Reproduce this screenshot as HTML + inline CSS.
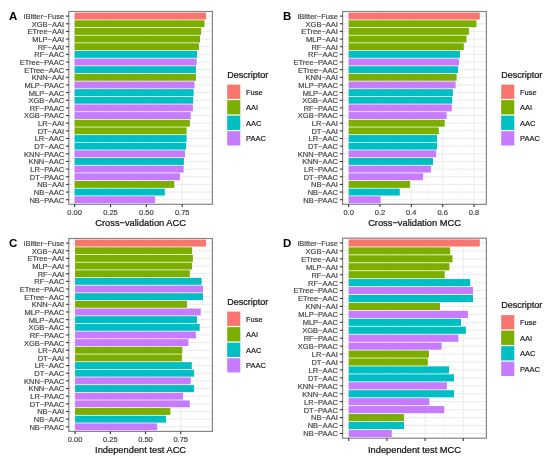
<!DOCTYPE html>
<html><head><meta charset="utf-8"><style>
html,body{margin:0;padding:0;background:#fff;}
body{width:550px;height:463px;overflow:hidden;}
svg{display:block;filter:blur(0.3px);}
text{font-family:"Liberation Sans",sans-serif;}
.ax{font-size:7.5px;fill:#444444;stroke:#444444;stroke-width:0.18px;}
.ti{font-size:9.3px;fill:#111;stroke:#111;stroke-width:0.22px;}
.lg{font-size:7.5px;fill:#111;stroke:#111;stroke-width:0.15px;}
.lt{font-size:9px;fill:#111;stroke:#111;stroke-width:0.22px;}
.pl{font-size:11.5px;font-weight:bold;fill:#000;}
</style></head><body>
<svg width="550" height="463" viewBox="0 0 550 463">
<rect x="0" y="0" width="550" height="463" fill="#FFFFFF"/>
<line x1="92.58" y1="11.5" x2="92.58" y2="204.3" stroke="#F2F2F2" stroke-width="0.6"/>
<line x1="128.43" y1="11.5" x2="128.43" y2="204.3" stroke="#F2F2F2" stroke-width="0.6"/>
<line x1="164.28" y1="11.5" x2="164.28" y2="204.3" stroke="#F2F2F2" stroke-width="0.6"/>
<line x1="200.12" y1="11.5" x2="200.12" y2="204.3" stroke="#F2F2F2" stroke-width="0.6"/>
<line x1="74.65" y1="11.5" x2="74.65" y2="204.3" stroke="#EBEBEB" stroke-width="1.0"/>
<line x1="110.50" y1="11.5" x2="110.50" y2="204.3" stroke="#EBEBEB" stroke-width="1.0"/>
<line x1="146.35" y1="11.5" x2="146.35" y2="204.3" stroke="#EBEBEB" stroke-width="1.0"/>
<line x1="182.20" y1="11.5" x2="182.20" y2="204.3" stroke="#EBEBEB" stroke-width="1.0"/>
<line x1="68.8" y1="16.09" x2="212.4" y2="16.09" stroke="#EBEBEB" stroke-width="1.0"/>
<line x1="68.8" y1="23.74" x2="212.4" y2="23.74" stroke="#EBEBEB" stroke-width="1.0"/>
<line x1="68.8" y1="31.39" x2="212.4" y2="31.39" stroke="#EBEBEB" stroke-width="1.0"/>
<line x1="68.8" y1="39.04" x2="212.4" y2="39.04" stroke="#EBEBEB" stroke-width="1.0"/>
<line x1="68.8" y1="46.69" x2="212.4" y2="46.69" stroke="#EBEBEB" stroke-width="1.0"/>
<line x1="68.8" y1="54.34" x2="212.4" y2="54.34" stroke="#EBEBEB" stroke-width="1.0"/>
<line x1="68.8" y1="62.00" x2="212.4" y2="62.00" stroke="#EBEBEB" stroke-width="1.0"/>
<line x1="68.8" y1="69.65" x2="212.4" y2="69.65" stroke="#EBEBEB" stroke-width="1.0"/>
<line x1="68.8" y1="77.30" x2="212.4" y2="77.30" stroke="#EBEBEB" stroke-width="1.0"/>
<line x1="68.8" y1="84.95" x2="212.4" y2="84.95" stroke="#EBEBEB" stroke-width="1.0"/>
<line x1="68.8" y1="92.60" x2="212.4" y2="92.60" stroke="#EBEBEB" stroke-width="1.0"/>
<line x1="68.8" y1="100.25" x2="212.4" y2="100.25" stroke="#EBEBEB" stroke-width="1.0"/>
<line x1="68.8" y1="107.90" x2="212.4" y2="107.90" stroke="#EBEBEB" stroke-width="1.0"/>
<line x1="68.8" y1="115.55" x2="212.4" y2="115.55" stroke="#EBEBEB" stroke-width="1.0"/>
<line x1="68.8" y1="123.20" x2="212.4" y2="123.20" stroke="#EBEBEB" stroke-width="1.0"/>
<line x1="68.8" y1="130.85" x2="212.4" y2="130.85" stroke="#EBEBEB" stroke-width="1.0"/>
<line x1="68.8" y1="138.50" x2="212.4" y2="138.50" stroke="#EBEBEB" stroke-width="1.0"/>
<line x1="68.8" y1="146.15" x2="212.4" y2="146.15" stroke="#EBEBEB" stroke-width="1.0"/>
<line x1="68.8" y1="153.80" x2="212.4" y2="153.80" stroke="#EBEBEB" stroke-width="1.0"/>
<line x1="68.8" y1="161.46" x2="212.4" y2="161.46" stroke="#EBEBEB" stroke-width="1.0"/>
<line x1="68.8" y1="169.11" x2="212.4" y2="169.11" stroke="#EBEBEB" stroke-width="1.0"/>
<line x1="68.8" y1="176.76" x2="212.4" y2="176.76" stroke="#EBEBEB" stroke-width="1.0"/>
<line x1="68.8" y1="184.41" x2="212.4" y2="184.41" stroke="#EBEBEB" stroke-width="1.0"/>
<line x1="68.8" y1="192.06" x2="212.4" y2="192.06" stroke="#EBEBEB" stroke-width="1.0"/>
<line x1="68.8" y1="199.71" x2="212.4" y2="199.71" stroke="#EBEBEB" stroke-width="1.0"/>
<rect x="74.65" y="12.65" width="131.45" height="6.89" fill="#F8766D"/>
<rect x="74.65" y="20.30" width="129.85" height="6.89" fill="#7CAE00"/>
<rect x="74.65" y="27.95" width="126.45" height="6.89" fill="#7CAE00"/>
<rect x="74.65" y="35.60" width="125.35" height="6.89" fill="#7CAE00"/>
<rect x="74.65" y="43.25" width="124.25" height="6.89" fill="#7CAE00"/>
<rect x="74.65" y="50.90" width="122.35" height="6.89" fill="#00BFC4"/>
<rect x="74.65" y="58.55" width="121.95" height="6.89" fill="#C77CFF"/>
<rect x="74.65" y="66.20" width="121.25" height="6.89" fill="#00BFC4"/>
<rect x="74.65" y="73.85" width="121.25" height="6.89" fill="#7CAE00"/>
<rect x="74.65" y="81.50" width="119.85" height="6.89" fill="#C77CFF"/>
<rect x="74.65" y="89.16" width="118.95" height="6.89" fill="#00BFC4"/>
<rect x="74.65" y="96.81" width="118.55" height="6.89" fill="#00BFC4"/>
<rect x="74.65" y="104.46" width="118.25" height="6.89" fill="#C77CFF"/>
<rect x="74.65" y="112.11" width="116.05" height="6.89" fill="#C77CFF"/>
<rect x="74.65" y="119.76" width="115.25" height="6.89" fill="#7CAE00"/>
<rect x="74.65" y="127.41" width="111.95" height="6.89" fill="#7CAE00"/>
<rect x="74.65" y="135.06" width="111.95" height="6.89" fill="#00BFC4"/>
<rect x="74.65" y="142.71" width="111.45" height="6.89" fill="#00BFC4"/>
<rect x="74.65" y="150.36" width="110.35" height="6.89" fill="#C77CFF"/>
<rect x="74.65" y="158.01" width="109.25" height="6.89" fill="#00BFC4"/>
<rect x="74.65" y="165.66" width="108.95" height="6.89" fill="#C77CFF"/>
<rect x="74.65" y="173.31" width="105.35" height="6.89" fill="#C77CFF"/>
<rect x="74.65" y="180.97" width="99.65" height="6.89" fill="#7CAE00"/>
<rect x="74.65" y="188.62" width="90.15" height="6.89" fill="#00BFC4"/>
<rect x="74.65" y="196.27" width="80.45" height="6.89" fill="#C77CFF"/>
<rect x="68.8" y="11.5" width="143.60" height="192.80" fill="none" stroke="#858585" stroke-width="1.2"/>
<line x1="66.05" y1="16.09" x2="68.8" y2="16.09" stroke="#333333" stroke-width="1.1"/>
<text x="64.10" y="18.99" text-anchor="end" class="ax">iBitter−Fuse</text>
<line x1="66.05" y1="23.74" x2="68.8" y2="23.74" stroke="#333333" stroke-width="1.1"/>
<text x="64.10" y="26.64" text-anchor="end" class="ax">XGB−AAI</text>
<line x1="66.05" y1="31.39" x2="68.8" y2="31.39" stroke="#333333" stroke-width="1.1"/>
<text x="64.10" y="34.29" text-anchor="end" class="ax">ETree−AAI</text>
<line x1="66.05" y1="39.04" x2="68.8" y2="39.04" stroke="#333333" stroke-width="1.1"/>
<text x="64.10" y="41.94" text-anchor="end" class="ax">MLP−AAI</text>
<line x1="66.05" y1="46.69" x2="68.8" y2="46.69" stroke="#333333" stroke-width="1.1"/>
<text x="64.10" y="49.59" text-anchor="end" class="ax">RF−AAI</text>
<line x1="66.05" y1="54.34" x2="68.8" y2="54.34" stroke="#333333" stroke-width="1.1"/>
<text x="64.10" y="57.24" text-anchor="end" class="ax">RF−AAC</text>
<line x1="66.05" y1="62.00" x2="68.8" y2="62.00" stroke="#333333" stroke-width="1.1"/>
<text x="64.10" y="64.90" text-anchor="end" class="ax">ETree−PAAC</text>
<line x1="66.05" y1="69.65" x2="68.8" y2="69.65" stroke="#333333" stroke-width="1.1"/>
<text x="64.10" y="72.55" text-anchor="end" class="ax">ETree−AAC</text>
<line x1="66.05" y1="77.30" x2="68.8" y2="77.30" stroke="#333333" stroke-width="1.1"/>
<text x="64.10" y="80.20" text-anchor="end" class="ax">KNN−AAI</text>
<line x1="66.05" y1="84.95" x2="68.8" y2="84.95" stroke="#333333" stroke-width="1.1"/>
<text x="64.10" y="87.85" text-anchor="end" class="ax">MLP−PAAC</text>
<line x1="66.05" y1="92.60" x2="68.8" y2="92.60" stroke="#333333" stroke-width="1.1"/>
<text x="64.10" y="95.50" text-anchor="end" class="ax">MLP−AAC</text>
<line x1="66.05" y1="100.25" x2="68.8" y2="100.25" stroke="#333333" stroke-width="1.1"/>
<text x="64.10" y="103.15" text-anchor="end" class="ax">XGB−AAC</text>
<line x1="66.05" y1="107.90" x2="68.8" y2="107.90" stroke="#333333" stroke-width="1.1"/>
<text x="64.10" y="110.80" text-anchor="end" class="ax">RF−PAAC</text>
<line x1="66.05" y1="115.55" x2="68.8" y2="115.55" stroke="#333333" stroke-width="1.1"/>
<text x="64.10" y="118.45" text-anchor="end" class="ax">XGB−PAAC</text>
<line x1="66.05" y1="123.20" x2="68.8" y2="123.20" stroke="#333333" stroke-width="1.1"/>
<text x="64.10" y="126.10" text-anchor="end" class="ax">LR−AAI</text>
<line x1="66.05" y1="130.85" x2="68.8" y2="130.85" stroke="#333333" stroke-width="1.1"/>
<text x="64.10" y="133.75" text-anchor="end" class="ax">DT−AAI</text>
<line x1="66.05" y1="138.50" x2="68.8" y2="138.50" stroke="#333333" stroke-width="1.1"/>
<text x="64.10" y="141.40" text-anchor="end" class="ax">LR−AAC</text>
<line x1="66.05" y1="146.15" x2="68.8" y2="146.15" stroke="#333333" stroke-width="1.1"/>
<text x="64.10" y="149.05" text-anchor="end" class="ax">DT−AAC</text>
<line x1="66.05" y1="153.80" x2="68.8" y2="153.80" stroke="#333333" stroke-width="1.1"/>
<text x="64.10" y="156.70" text-anchor="end" class="ax">KNN−PAAC</text>
<line x1="66.05" y1="161.46" x2="68.8" y2="161.46" stroke="#333333" stroke-width="1.1"/>
<text x="64.10" y="164.36" text-anchor="end" class="ax">KNN−AAC</text>
<line x1="66.05" y1="169.11" x2="68.8" y2="169.11" stroke="#333333" stroke-width="1.1"/>
<text x="64.10" y="172.01" text-anchor="end" class="ax">LR−PAAC</text>
<line x1="66.05" y1="176.76" x2="68.8" y2="176.76" stroke="#333333" stroke-width="1.1"/>
<text x="64.10" y="179.66" text-anchor="end" class="ax">DT−PAAC</text>
<line x1="66.05" y1="184.41" x2="68.8" y2="184.41" stroke="#333333" stroke-width="1.1"/>
<text x="64.10" y="187.31" text-anchor="end" class="ax">NB−AAI</text>
<line x1="66.05" y1="192.06" x2="68.8" y2="192.06" stroke="#333333" stroke-width="1.1"/>
<text x="64.10" y="194.96" text-anchor="end" class="ax">NB−AAC</text>
<line x1="66.05" y1="199.71" x2="68.8" y2="199.71" stroke="#333333" stroke-width="1.1"/>
<text x="64.10" y="202.61" text-anchor="end" class="ax">NB−PAAC</text>
<line x1="74.65" y1="204.3" x2="74.65" y2="207.05" stroke="#333333" stroke-width="1.1"/>
<text x="74.65" y="214.60" text-anchor="middle" class="ax">0.00</text>
<line x1="110.50" y1="204.3" x2="110.50" y2="207.05" stroke="#333333" stroke-width="1.1"/>
<text x="110.50" y="214.60" text-anchor="middle" class="ax">0.25</text>
<line x1="146.35" y1="204.3" x2="146.35" y2="207.05" stroke="#333333" stroke-width="1.1"/>
<text x="146.35" y="214.60" text-anchor="middle" class="ax">0.50</text>
<line x1="182.20" y1="204.3" x2="182.20" y2="207.05" stroke="#333333" stroke-width="1.1"/>
<text x="182.20" y="214.60" text-anchor="middle" class="ax">0.75</text>
<text x="140.60" y="226.0" text-anchor="middle" class="ti">Cross−validation ACC</text>
<text x="9" y="19.5" class="pl">A</text>
<text x="227.20" y="77.60" class="lt">Descriptor</text>
<rect x="227.20" y="84.60" width="13.1" height="14.3" fill="#F8766D"/>
<text x="246.00" y="94.70" class="lg">Fuse</text>
<rect x="227.20" y="100.13" width="13.1" height="14.3" fill="#7CAE00"/>
<text x="246.00" y="110.23" class="lg">AAI</text>
<rect x="227.20" y="115.66" width="13.1" height="14.3" fill="#00BFC4"/>
<text x="246.00" y="125.76" class="lg">AAC</text>
<rect x="227.20" y="131.19" width="13.1" height="14.3" fill="#C77CFF"/>
<text x="246.00" y="141.29" class="lg">PAAC</text>
<line x1="364.34" y1="11.5" x2="364.34" y2="204.3" stroke="#F2F2F2" stroke-width="0.6"/>
<line x1="395.67" y1="11.5" x2="395.67" y2="204.3" stroke="#F2F2F2" stroke-width="0.6"/>
<line x1="427.00" y1="11.5" x2="427.00" y2="204.3" stroke="#F2F2F2" stroke-width="0.6"/>
<line x1="458.33" y1="11.5" x2="458.33" y2="204.3" stroke="#F2F2F2" stroke-width="0.6"/>
<line x1="348.67" y1="11.5" x2="348.67" y2="204.3" stroke="#EBEBEB" stroke-width="1.0"/>
<line x1="380.00" y1="11.5" x2="380.00" y2="204.3" stroke="#EBEBEB" stroke-width="1.0"/>
<line x1="411.33" y1="11.5" x2="411.33" y2="204.3" stroke="#EBEBEB" stroke-width="1.0"/>
<line x1="442.66" y1="11.5" x2="442.66" y2="204.3" stroke="#EBEBEB" stroke-width="1.0"/>
<line x1="473.99" y1="11.5" x2="473.99" y2="204.3" stroke="#EBEBEB" stroke-width="1.0"/>
<line x1="342.6" y1="16.09" x2="486.4" y2="16.09" stroke="#EBEBEB" stroke-width="1.0"/>
<line x1="342.6" y1="23.74" x2="486.4" y2="23.74" stroke="#EBEBEB" stroke-width="1.0"/>
<line x1="342.6" y1="31.39" x2="486.4" y2="31.39" stroke="#EBEBEB" stroke-width="1.0"/>
<line x1="342.6" y1="39.04" x2="486.4" y2="39.04" stroke="#EBEBEB" stroke-width="1.0"/>
<line x1="342.6" y1="46.69" x2="486.4" y2="46.69" stroke="#EBEBEB" stroke-width="1.0"/>
<line x1="342.6" y1="54.34" x2="486.4" y2="54.34" stroke="#EBEBEB" stroke-width="1.0"/>
<line x1="342.6" y1="62.00" x2="486.4" y2="62.00" stroke="#EBEBEB" stroke-width="1.0"/>
<line x1="342.6" y1="69.65" x2="486.4" y2="69.65" stroke="#EBEBEB" stroke-width="1.0"/>
<line x1="342.6" y1="77.30" x2="486.4" y2="77.30" stroke="#EBEBEB" stroke-width="1.0"/>
<line x1="342.6" y1="84.95" x2="486.4" y2="84.95" stroke="#EBEBEB" stroke-width="1.0"/>
<line x1="342.6" y1="92.60" x2="486.4" y2="92.60" stroke="#EBEBEB" stroke-width="1.0"/>
<line x1="342.6" y1="100.25" x2="486.4" y2="100.25" stroke="#EBEBEB" stroke-width="1.0"/>
<line x1="342.6" y1="107.90" x2="486.4" y2="107.90" stroke="#EBEBEB" stroke-width="1.0"/>
<line x1="342.6" y1="115.55" x2="486.4" y2="115.55" stroke="#EBEBEB" stroke-width="1.0"/>
<line x1="342.6" y1="123.20" x2="486.4" y2="123.20" stroke="#EBEBEB" stroke-width="1.0"/>
<line x1="342.6" y1="130.85" x2="486.4" y2="130.85" stroke="#EBEBEB" stroke-width="1.0"/>
<line x1="342.6" y1="138.50" x2="486.4" y2="138.50" stroke="#EBEBEB" stroke-width="1.0"/>
<line x1="342.6" y1="146.15" x2="486.4" y2="146.15" stroke="#EBEBEB" stroke-width="1.0"/>
<line x1="342.6" y1="153.80" x2="486.4" y2="153.80" stroke="#EBEBEB" stroke-width="1.0"/>
<line x1="342.6" y1="161.46" x2="486.4" y2="161.46" stroke="#EBEBEB" stroke-width="1.0"/>
<line x1="342.6" y1="169.11" x2="486.4" y2="169.11" stroke="#EBEBEB" stroke-width="1.0"/>
<line x1="342.6" y1="176.76" x2="486.4" y2="176.76" stroke="#EBEBEB" stroke-width="1.0"/>
<line x1="342.6" y1="184.41" x2="486.4" y2="184.41" stroke="#EBEBEB" stroke-width="1.0"/>
<line x1="342.6" y1="192.06" x2="486.4" y2="192.06" stroke="#EBEBEB" stroke-width="1.0"/>
<line x1="342.6" y1="199.71" x2="486.4" y2="199.71" stroke="#EBEBEB" stroke-width="1.0"/>
<rect x="348.67" y="12.65" width="131.13" height="6.89" fill="#F8766D"/>
<rect x="348.67" y="20.30" width="127.73" height="6.89" fill="#7CAE00"/>
<rect x="348.67" y="27.95" width="120.23" height="6.89" fill="#7CAE00"/>
<rect x="348.67" y="35.60" width="117.83" height="6.89" fill="#7CAE00"/>
<rect x="348.67" y="43.25" width="115.13" height="6.89" fill="#7CAE00"/>
<rect x="348.67" y="50.90" width="111.33" height="6.89" fill="#00BFC4"/>
<rect x="348.67" y="58.55" width="110.23" height="6.89" fill="#C77CFF"/>
<rect x="348.67" y="66.20" width="109.33" height="6.89" fill="#00BFC4"/>
<rect x="348.67" y="73.85" width="107.93" height="6.89" fill="#7CAE00"/>
<rect x="348.67" y="81.50" width="106.93" height="6.89" fill="#C77CFF"/>
<rect x="348.67" y="89.16" width="104.23" height="6.89" fill="#00BFC4"/>
<rect x="348.67" y="96.81" width="103.53" height="6.89" fill="#00BFC4"/>
<rect x="348.67" y="104.46" width="103.13" height="6.89" fill="#C77CFF"/>
<rect x="348.67" y="112.11" width="97.93" height="6.89" fill="#C77CFF"/>
<rect x="348.67" y="119.76" width="96.03" height="6.89" fill="#7CAE00"/>
<rect x="348.67" y="127.41" width="90.13" height="6.89" fill="#7CAE00"/>
<rect x="348.67" y="135.06" width="88.33" height="6.89" fill="#00BFC4"/>
<rect x="348.67" y="142.71" width="88.33" height="6.89" fill="#00BFC4"/>
<rect x="348.67" y="150.36" width="87.43" height="6.89" fill="#C77CFF"/>
<rect x="348.67" y="158.01" width="84.33" height="6.89" fill="#00BFC4"/>
<rect x="348.67" y="165.66" width="82.23" height="6.89" fill="#C77CFF"/>
<rect x="348.67" y="173.31" width="74.43" height="6.89" fill="#C77CFF"/>
<rect x="348.67" y="180.97" width="61.43" height="6.89" fill="#7CAE00"/>
<rect x="348.67" y="188.62" width="51.13" height="6.89" fill="#00BFC4"/>
<rect x="348.67" y="196.27" width="31.83" height="6.89" fill="#C77CFF"/>
<rect x="342.6" y="11.5" width="143.80" height="192.80" fill="none" stroke="#858585" stroke-width="1.2"/>
<line x1="339.85" y1="16.09" x2="342.6" y2="16.09" stroke="#333333" stroke-width="1.1"/>
<text x="337.90" y="18.99" text-anchor="end" class="ax">iBitter−Fuse</text>
<line x1="339.85" y1="23.74" x2="342.6" y2="23.74" stroke="#333333" stroke-width="1.1"/>
<text x="337.90" y="26.64" text-anchor="end" class="ax">XGB−AAI</text>
<line x1="339.85" y1="31.39" x2="342.6" y2="31.39" stroke="#333333" stroke-width="1.1"/>
<text x="337.90" y="34.29" text-anchor="end" class="ax">ETree−AAI</text>
<line x1="339.85" y1="39.04" x2="342.6" y2="39.04" stroke="#333333" stroke-width="1.1"/>
<text x="337.90" y="41.94" text-anchor="end" class="ax">MLP−AAI</text>
<line x1="339.85" y1="46.69" x2="342.6" y2="46.69" stroke="#333333" stroke-width="1.1"/>
<text x="337.90" y="49.59" text-anchor="end" class="ax">RF−AAI</text>
<line x1="339.85" y1="54.34" x2="342.6" y2="54.34" stroke="#333333" stroke-width="1.1"/>
<text x="337.90" y="57.24" text-anchor="end" class="ax">RF−AAC</text>
<line x1="339.85" y1="62.00" x2="342.6" y2="62.00" stroke="#333333" stroke-width="1.1"/>
<text x="337.90" y="64.90" text-anchor="end" class="ax">ETree−PAAC</text>
<line x1="339.85" y1="69.65" x2="342.6" y2="69.65" stroke="#333333" stroke-width="1.1"/>
<text x="337.90" y="72.55" text-anchor="end" class="ax">ETree−AAC</text>
<line x1="339.85" y1="77.30" x2="342.6" y2="77.30" stroke="#333333" stroke-width="1.1"/>
<text x="337.90" y="80.20" text-anchor="end" class="ax">KNN−AAI</text>
<line x1="339.85" y1="84.95" x2="342.6" y2="84.95" stroke="#333333" stroke-width="1.1"/>
<text x="337.90" y="87.85" text-anchor="end" class="ax">MLP−PAAC</text>
<line x1="339.85" y1="92.60" x2="342.6" y2="92.60" stroke="#333333" stroke-width="1.1"/>
<text x="337.90" y="95.50" text-anchor="end" class="ax">MLP−AAC</text>
<line x1="339.85" y1="100.25" x2="342.6" y2="100.25" stroke="#333333" stroke-width="1.1"/>
<text x="337.90" y="103.15" text-anchor="end" class="ax">XGB−AAC</text>
<line x1="339.85" y1="107.90" x2="342.6" y2="107.90" stroke="#333333" stroke-width="1.1"/>
<text x="337.90" y="110.80" text-anchor="end" class="ax">RF−PAAC</text>
<line x1="339.85" y1="115.55" x2="342.6" y2="115.55" stroke="#333333" stroke-width="1.1"/>
<text x="337.90" y="118.45" text-anchor="end" class="ax">XGB−PAAC</text>
<line x1="339.85" y1="123.20" x2="342.6" y2="123.20" stroke="#333333" stroke-width="1.1"/>
<text x="337.90" y="126.10" text-anchor="end" class="ax">LR−AAI</text>
<line x1="339.85" y1="130.85" x2="342.6" y2="130.85" stroke="#333333" stroke-width="1.1"/>
<text x="337.90" y="133.75" text-anchor="end" class="ax">DT−AAI</text>
<line x1="339.85" y1="138.50" x2="342.6" y2="138.50" stroke="#333333" stroke-width="1.1"/>
<text x="337.90" y="141.40" text-anchor="end" class="ax">LR−AAC</text>
<line x1="339.85" y1="146.15" x2="342.6" y2="146.15" stroke="#333333" stroke-width="1.1"/>
<text x="337.90" y="149.05" text-anchor="end" class="ax">DT−AAC</text>
<line x1="339.85" y1="153.80" x2="342.6" y2="153.80" stroke="#333333" stroke-width="1.1"/>
<text x="337.90" y="156.70" text-anchor="end" class="ax">KNN−PAAC</text>
<line x1="339.85" y1="161.46" x2="342.6" y2="161.46" stroke="#333333" stroke-width="1.1"/>
<text x="337.90" y="164.36" text-anchor="end" class="ax">KNN−AAC</text>
<line x1="339.85" y1="169.11" x2="342.6" y2="169.11" stroke="#333333" stroke-width="1.1"/>
<text x="337.90" y="172.01" text-anchor="end" class="ax">LR−PAAC</text>
<line x1="339.85" y1="176.76" x2="342.6" y2="176.76" stroke="#333333" stroke-width="1.1"/>
<text x="337.90" y="179.66" text-anchor="end" class="ax">DT−PAAC</text>
<line x1="339.85" y1="184.41" x2="342.6" y2="184.41" stroke="#333333" stroke-width="1.1"/>
<text x="337.90" y="187.31" text-anchor="end" class="ax">NB−AAI</text>
<line x1="339.85" y1="192.06" x2="342.6" y2="192.06" stroke="#333333" stroke-width="1.1"/>
<text x="337.90" y="194.96" text-anchor="end" class="ax">NB−AAC</text>
<line x1="339.85" y1="199.71" x2="342.6" y2="199.71" stroke="#333333" stroke-width="1.1"/>
<text x="337.90" y="202.61" text-anchor="end" class="ax">NB−PAAC</text>
<line x1="348.67" y1="204.3" x2="348.67" y2="207.05" stroke="#333333" stroke-width="1.1"/>
<text x="348.67" y="214.60" text-anchor="middle" class="ax">0.0</text>
<line x1="380.00" y1="204.3" x2="380.00" y2="207.05" stroke="#333333" stroke-width="1.1"/>
<text x="380.00" y="214.60" text-anchor="middle" class="ax">0.2</text>
<line x1="411.33" y1="204.3" x2="411.33" y2="207.05" stroke="#333333" stroke-width="1.1"/>
<text x="411.33" y="214.60" text-anchor="middle" class="ax">0.4</text>
<line x1="442.66" y1="204.3" x2="442.66" y2="207.05" stroke="#333333" stroke-width="1.1"/>
<text x="442.66" y="214.60" text-anchor="middle" class="ax">0.6</text>
<line x1="473.99" y1="204.3" x2="473.99" y2="207.05" stroke="#333333" stroke-width="1.1"/>
<text x="473.99" y="214.60" text-anchor="middle" class="ax">0.8</text>
<text x="414.50" y="226.0" text-anchor="middle" class="ti">Cross−validation MCC</text>
<text x="283" y="19.5" class="pl">B</text>
<text x="501.20" y="77.60" class="lt">Descriptor</text>
<rect x="501.20" y="84.60" width="13.1" height="14.3" fill="#F8766D"/>
<text x="520.00" y="94.70" class="lg">Fuse</text>
<rect x="501.20" y="100.13" width="13.1" height="14.3" fill="#7CAE00"/>
<text x="520.00" y="110.23" class="lg">AAI</text>
<rect x="501.20" y="115.66" width="13.1" height="14.3" fill="#00BFC4"/>
<text x="520.00" y="125.76" class="lg">AAC</text>
<rect x="501.20" y="131.19" width="13.1" height="14.3" fill="#C77CFF"/>
<text x="520.00" y="141.29" class="lg">PAAC</text>
<line x1="92.70" y1="238.5" x2="92.70" y2="431.4" stroke="#F2F2F2" stroke-width="0.6"/>
<line x1="127.90" y1="238.5" x2="127.90" y2="431.4" stroke="#F2F2F2" stroke-width="0.6"/>
<line x1="163.10" y1="238.5" x2="163.10" y2="431.4" stroke="#F2F2F2" stroke-width="0.6"/>
<line x1="198.30" y1="238.5" x2="198.30" y2="431.4" stroke="#F2F2F2" stroke-width="0.6"/>
<line x1="75.10" y1="238.5" x2="75.10" y2="431.4" stroke="#EBEBEB" stroke-width="1.0"/>
<line x1="110.30" y1="238.5" x2="110.30" y2="431.4" stroke="#EBEBEB" stroke-width="1.0"/>
<line x1="145.50" y1="238.5" x2="145.50" y2="431.4" stroke="#EBEBEB" stroke-width="1.0"/>
<line x1="180.70" y1="238.5" x2="180.70" y2="431.4" stroke="#EBEBEB" stroke-width="1.0"/>
<line x1="68.8" y1="243.09" x2="212.4" y2="243.09" stroke="#EBEBEB" stroke-width="1.0"/>
<line x1="68.8" y1="250.75" x2="212.4" y2="250.75" stroke="#EBEBEB" stroke-width="1.0"/>
<line x1="68.8" y1="258.40" x2="212.4" y2="258.40" stroke="#EBEBEB" stroke-width="1.0"/>
<line x1="68.8" y1="266.06" x2="212.4" y2="266.06" stroke="#EBEBEB" stroke-width="1.0"/>
<line x1="68.8" y1="273.71" x2="212.4" y2="273.71" stroke="#EBEBEB" stroke-width="1.0"/>
<line x1="68.8" y1="281.37" x2="212.4" y2="281.37" stroke="#EBEBEB" stroke-width="1.0"/>
<line x1="68.8" y1="289.02" x2="212.4" y2="289.02" stroke="#EBEBEB" stroke-width="1.0"/>
<line x1="68.8" y1="296.68" x2="212.4" y2="296.68" stroke="#EBEBEB" stroke-width="1.0"/>
<line x1="68.8" y1="304.33" x2="212.4" y2="304.33" stroke="#EBEBEB" stroke-width="1.0"/>
<line x1="68.8" y1="311.99" x2="212.4" y2="311.99" stroke="#EBEBEB" stroke-width="1.0"/>
<line x1="68.8" y1="319.64" x2="212.4" y2="319.64" stroke="#EBEBEB" stroke-width="1.0"/>
<line x1="68.8" y1="327.30" x2="212.4" y2="327.30" stroke="#EBEBEB" stroke-width="1.0"/>
<line x1="68.8" y1="334.95" x2="212.4" y2="334.95" stroke="#EBEBEB" stroke-width="1.0"/>
<line x1="68.8" y1="342.60" x2="212.4" y2="342.60" stroke="#EBEBEB" stroke-width="1.0"/>
<line x1="68.8" y1="350.26" x2="212.4" y2="350.26" stroke="#EBEBEB" stroke-width="1.0"/>
<line x1="68.8" y1="357.91" x2="212.4" y2="357.91" stroke="#EBEBEB" stroke-width="1.0"/>
<line x1="68.8" y1="365.57" x2="212.4" y2="365.57" stroke="#EBEBEB" stroke-width="1.0"/>
<line x1="68.8" y1="373.22" x2="212.4" y2="373.22" stroke="#EBEBEB" stroke-width="1.0"/>
<line x1="68.8" y1="380.88" x2="212.4" y2="380.88" stroke="#EBEBEB" stroke-width="1.0"/>
<line x1="68.8" y1="388.53" x2="212.4" y2="388.53" stroke="#EBEBEB" stroke-width="1.0"/>
<line x1="68.8" y1="396.19" x2="212.4" y2="396.19" stroke="#EBEBEB" stroke-width="1.0"/>
<line x1="68.8" y1="403.84" x2="212.4" y2="403.84" stroke="#EBEBEB" stroke-width="1.0"/>
<line x1="68.8" y1="411.50" x2="212.4" y2="411.50" stroke="#EBEBEB" stroke-width="1.0"/>
<line x1="68.8" y1="419.15" x2="212.4" y2="419.15" stroke="#EBEBEB" stroke-width="1.0"/>
<line x1="68.8" y1="426.81" x2="212.4" y2="426.81" stroke="#EBEBEB" stroke-width="1.0"/>
<rect x="75.10" y="239.65" width="131.00" height="6.89" fill="#F8766D"/>
<rect x="75.10" y="247.30" width="117.00" height="6.89" fill="#7CAE00"/>
<rect x="75.10" y="254.96" width="117.80" height="6.89" fill="#7CAE00"/>
<rect x="75.10" y="262.61" width="117.00" height="6.89" fill="#7CAE00"/>
<rect x="75.10" y="270.27" width="114.70" height="6.89" fill="#7CAE00"/>
<rect x="75.10" y="277.92" width="126.50" height="6.89" fill="#00BFC4"/>
<rect x="75.10" y="285.58" width="127.90" height="6.89" fill="#C77CFF"/>
<rect x="75.10" y="293.23" width="127.90" height="6.89" fill="#00BFC4"/>
<rect x="75.10" y="300.89" width="111.90" height="6.89" fill="#7CAE00"/>
<rect x="75.10" y="308.54" width="125.60" height="6.89" fill="#C77CFF"/>
<rect x="75.10" y="316.20" width="121.90" height="6.89" fill="#00BFC4"/>
<rect x="75.10" y="323.85" width="124.60" height="6.89" fill="#00BFC4"/>
<rect x="75.10" y="331.51" width="120.80" height="6.89" fill="#C77CFF"/>
<rect x="75.10" y="339.16" width="113.30" height="6.89" fill="#C77CFF"/>
<rect x="75.10" y="346.81" width="107.20" height="6.89" fill="#7CAE00"/>
<rect x="75.10" y="354.47" width="106.80" height="6.89" fill="#7CAE00"/>
<rect x="75.10" y="362.12" width="116.70" height="6.89" fill="#00BFC4"/>
<rect x="75.10" y="369.78" width="119.00" height="6.89" fill="#00BFC4"/>
<rect x="75.10" y="377.43" width="115.60" height="6.89" fill="#C77CFF"/>
<rect x="75.10" y="385.09" width="119.00" height="6.89" fill="#00BFC4"/>
<rect x="75.10" y="392.74" width="107.90" height="6.89" fill="#C77CFF"/>
<rect x="75.10" y="400.40" width="114.70" height="6.89" fill="#C77CFF"/>
<rect x="75.10" y="408.05" width="95.30" height="6.89" fill="#7CAE00"/>
<rect x="75.10" y="415.71" width="91.00" height="6.89" fill="#00BFC4"/>
<rect x="75.10" y="423.36" width="82.10" height="6.89" fill="#C77CFF"/>
<rect x="68.8" y="238.5" width="143.60" height="192.90" fill="none" stroke="#858585" stroke-width="1.2"/>
<line x1="66.05" y1="243.09" x2="68.8" y2="243.09" stroke="#333333" stroke-width="1.1"/>
<text x="64.10" y="245.99" text-anchor="end" class="ax">iBitter−Fuse</text>
<line x1="66.05" y1="250.75" x2="68.8" y2="250.75" stroke="#333333" stroke-width="1.1"/>
<text x="64.10" y="253.65" text-anchor="end" class="ax">XGB−AAI</text>
<line x1="66.05" y1="258.40" x2="68.8" y2="258.40" stroke="#333333" stroke-width="1.1"/>
<text x="64.10" y="261.30" text-anchor="end" class="ax">ETree−AAI</text>
<line x1="66.05" y1="266.06" x2="68.8" y2="266.06" stroke="#333333" stroke-width="1.1"/>
<text x="64.10" y="268.96" text-anchor="end" class="ax">MLP−AAI</text>
<line x1="66.05" y1="273.71" x2="68.8" y2="273.71" stroke="#333333" stroke-width="1.1"/>
<text x="64.10" y="276.61" text-anchor="end" class="ax">RF−AAI</text>
<line x1="66.05" y1="281.37" x2="68.8" y2="281.37" stroke="#333333" stroke-width="1.1"/>
<text x="64.10" y="284.27" text-anchor="end" class="ax">RF−AAC</text>
<line x1="66.05" y1="289.02" x2="68.8" y2="289.02" stroke="#333333" stroke-width="1.1"/>
<text x="64.10" y="291.92" text-anchor="end" class="ax">ETree−PAAC</text>
<line x1="66.05" y1="296.68" x2="68.8" y2="296.68" stroke="#333333" stroke-width="1.1"/>
<text x="64.10" y="299.58" text-anchor="end" class="ax">ETree−AAC</text>
<line x1="66.05" y1="304.33" x2="68.8" y2="304.33" stroke="#333333" stroke-width="1.1"/>
<text x="64.10" y="307.23" text-anchor="end" class="ax">KNN−AAI</text>
<line x1="66.05" y1="311.99" x2="68.8" y2="311.99" stroke="#333333" stroke-width="1.1"/>
<text x="64.10" y="314.89" text-anchor="end" class="ax">MLP−PAAC</text>
<line x1="66.05" y1="319.64" x2="68.8" y2="319.64" stroke="#333333" stroke-width="1.1"/>
<text x="64.10" y="322.54" text-anchor="end" class="ax">MLP−AAC</text>
<line x1="66.05" y1="327.30" x2="68.8" y2="327.30" stroke="#333333" stroke-width="1.1"/>
<text x="64.10" y="330.20" text-anchor="end" class="ax">XGB−AAC</text>
<line x1="66.05" y1="334.95" x2="68.8" y2="334.95" stroke="#333333" stroke-width="1.1"/>
<text x="64.10" y="337.85" text-anchor="end" class="ax">RF−PAAC</text>
<line x1="66.05" y1="342.60" x2="68.8" y2="342.60" stroke="#333333" stroke-width="1.1"/>
<text x="64.10" y="345.50" text-anchor="end" class="ax">XGB−PAAC</text>
<line x1="66.05" y1="350.26" x2="68.8" y2="350.26" stroke="#333333" stroke-width="1.1"/>
<text x="64.10" y="353.16" text-anchor="end" class="ax">LR−AAI</text>
<line x1="66.05" y1="357.91" x2="68.8" y2="357.91" stroke="#333333" stroke-width="1.1"/>
<text x="64.10" y="360.81" text-anchor="end" class="ax">DT−AAI</text>
<line x1="66.05" y1="365.57" x2="68.8" y2="365.57" stroke="#333333" stroke-width="1.1"/>
<text x="64.10" y="368.47" text-anchor="end" class="ax">LR−AAC</text>
<line x1="66.05" y1="373.22" x2="68.8" y2="373.22" stroke="#333333" stroke-width="1.1"/>
<text x="64.10" y="376.12" text-anchor="end" class="ax">DT−AAC</text>
<line x1="66.05" y1="380.88" x2="68.8" y2="380.88" stroke="#333333" stroke-width="1.1"/>
<text x="64.10" y="383.78" text-anchor="end" class="ax">KNN−PAAC</text>
<line x1="66.05" y1="388.53" x2="68.8" y2="388.53" stroke="#333333" stroke-width="1.1"/>
<text x="64.10" y="391.43" text-anchor="end" class="ax">KNN−AAC</text>
<line x1="66.05" y1="396.19" x2="68.8" y2="396.19" stroke="#333333" stroke-width="1.1"/>
<text x="64.10" y="399.09" text-anchor="end" class="ax">LR−PAAC</text>
<line x1="66.05" y1="403.84" x2="68.8" y2="403.84" stroke="#333333" stroke-width="1.1"/>
<text x="64.10" y="406.74" text-anchor="end" class="ax">DT−PAAC</text>
<line x1="66.05" y1="411.50" x2="68.8" y2="411.50" stroke="#333333" stroke-width="1.1"/>
<text x="64.10" y="414.40" text-anchor="end" class="ax">NB−AAI</text>
<line x1="66.05" y1="419.15" x2="68.8" y2="419.15" stroke="#333333" stroke-width="1.1"/>
<text x="64.10" y="422.05" text-anchor="end" class="ax">NB−AAC</text>
<line x1="66.05" y1="426.81" x2="68.8" y2="426.81" stroke="#333333" stroke-width="1.1"/>
<text x="64.10" y="429.71" text-anchor="end" class="ax">NB−PAAC</text>
<line x1="75.10" y1="431.4" x2="75.10" y2="434.15" stroke="#333333" stroke-width="1.1"/>
<text x="75.10" y="441.70" text-anchor="middle" class="ax">0.00</text>
<line x1="110.30" y1="431.4" x2="110.30" y2="434.15" stroke="#333333" stroke-width="1.1"/>
<text x="110.30" y="441.70" text-anchor="middle" class="ax">0.25</text>
<line x1="145.50" y1="431.4" x2="145.50" y2="434.15" stroke="#333333" stroke-width="1.1"/>
<text x="145.50" y="441.70" text-anchor="middle" class="ax">0.50</text>
<line x1="180.70" y1="431.4" x2="180.70" y2="434.15" stroke="#333333" stroke-width="1.1"/>
<text x="180.70" y="441.70" text-anchor="middle" class="ax">0.75</text>
<text x="140.60" y="453.0" text-anchor="middle" class="ti">Independent test ACC</text>
<text x="9" y="246.5" class="pl">C</text>
<text x="227.20" y="304.60" class="lt">Descriptor</text>
<rect x="227.20" y="311.60" width="13.1" height="14.3" fill="#F8766D"/>
<text x="246.00" y="321.70" class="lg">Fuse</text>
<rect x="227.20" y="327.13" width="13.1" height="14.3" fill="#7CAE00"/>
<text x="246.00" y="337.23" class="lg">AAI</text>
<rect x="227.20" y="342.66" width="13.1" height="14.3" fill="#00BFC4"/>
<text x="246.00" y="352.76" class="lg">AAC</text>
<rect x="227.20" y="358.19" width="13.1" height="14.3" fill="#C77CFF"/>
<text x="246.00" y="368.29" class="lg">PAAC</text>
<line x1="367.80" y1="238.2" x2="367.80" y2="438.2" stroke="#F2F2F2" stroke-width="0.6"/>
<line x1="406.00" y1="238.2" x2="406.00" y2="438.2" stroke="#F2F2F2" stroke-width="0.6"/>
<line x1="444.20" y1="238.2" x2="444.20" y2="438.2" stroke="#F2F2F2" stroke-width="0.6"/>
<line x1="482.40" y1="238.2" x2="482.40" y2="438.2" stroke="#F2F2F2" stroke-width="0.6"/>
<line x1="348.70" y1="238.2" x2="348.70" y2="438.2" stroke="#EBEBEB" stroke-width="1.0"/>
<line x1="386.90" y1="238.2" x2="386.90" y2="438.2" stroke="#EBEBEB" stroke-width="1.0"/>
<line x1="425.10" y1="238.2" x2="425.10" y2="438.2" stroke="#EBEBEB" stroke-width="1.0"/>
<line x1="463.30" y1="238.2" x2="463.30" y2="438.2" stroke="#EBEBEB" stroke-width="1.0"/>
<line x1="342.6" y1="242.96" x2="486.4" y2="242.96" stroke="#EBEBEB" stroke-width="1.0"/>
<line x1="342.6" y1="250.90" x2="486.4" y2="250.90" stroke="#EBEBEB" stroke-width="1.0"/>
<line x1="342.6" y1="258.83" x2="486.4" y2="258.83" stroke="#EBEBEB" stroke-width="1.0"/>
<line x1="342.6" y1="266.77" x2="486.4" y2="266.77" stroke="#EBEBEB" stroke-width="1.0"/>
<line x1="342.6" y1="274.71" x2="486.4" y2="274.71" stroke="#EBEBEB" stroke-width="1.0"/>
<line x1="342.6" y1="282.64" x2="486.4" y2="282.64" stroke="#EBEBEB" stroke-width="1.0"/>
<line x1="342.6" y1="290.58" x2="486.4" y2="290.58" stroke="#EBEBEB" stroke-width="1.0"/>
<line x1="342.6" y1="298.52" x2="486.4" y2="298.52" stroke="#EBEBEB" stroke-width="1.0"/>
<line x1="342.6" y1="306.45" x2="486.4" y2="306.45" stroke="#EBEBEB" stroke-width="1.0"/>
<line x1="342.6" y1="314.39" x2="486.4" y2="314.39" stroke="#EBEBEB" stroke-width="1.0"/>
<line x1="342.6" y1="322.33" x2="486.4" y2="322.33" stroke="#EBEBEB" stroke-width="1.0"/>
<line x1="342.6" y1="330.26" x2="486.4" y2="330.26" stroke="#EBEBEB" stroke-width="1.0"/>
<line x1="342.6" y1="338.20" x2="486.4" y2="338.20" stroke="#EBEBEB" stroke-width="1.0"/>
<line x1="342.6" y1="346.14" x2="486.4" y2="346.14" stroke="#EBEBEB" stroke-width="1.0"/>
<line x1="342.6" y1="354.07" x2="486.4" y2="354.07" stroke="#EBEBEB" stroke-width="1.0"/>
<line x1="342.6" y1="362.01" x2="486.4" y2="362.01" stroke="#EBEBEB" stroke-width="1.0"/>
<line x1="342.6" y1="369.95" x2="486.4" y2="369.95" stroke="#EBEBEB" stroke-width="1.0"/>
<line x1="342.6" y1="377.88" x2="486.4" y2="377.88" stroke="#EBEBEB" stroke-width="1.0"/>
<line x1="342.6" y1="385.82" x2="486.4" y2="385.82" stroke="#EBEBEB" stroke-width="1.0"/>
<line x1="342.6" y1="393.76" x2="486.4" y2="393.76" stroke="#EBEBEB" stroke-width="1.0"/>
<line x1="342.6" y1="401.69" x2="486.4" y2="401.69" stroke="#EBEBEB" stroke-width="1.0"/>
<line x1="342.6" y1="409.63" x2="486.4" y2="409.63" stroke="#EBEBEB" stroke-width="1.0"/>
<line x1="342.6" y1="417.57" x2="486.4" y2="417.57" stroke="#EBEBEB" stroke-width="1.0"/>
<line x1="342.6" y1="425.50" x2="486.4" y2="425.50" stroke="#EBEBEB" stroke-width="1.0"/>
<line x1="342.6" y1="433.44" x2="486.4" y2="433.44" stroke="#EBEBEB" stroke-width="1.0"/>
<rect x="348.70" y="239.39" width="131.10" height="7.14" fill="#F8766D"/>
<rect x="348.70" y="247.33" width="101.50" height="7.14" fill="#7CAE00"/>
<rect x="348.70" y="255.26" width="103.80" height="7.14" fill="#7CAE00"/>
<rect x="348.70" y="263.20" width="100.70" height="7.14" fill="#7CAE00"/>
<rect x="348.70" y="271.14" width="96.00" height="7.14" fill="#7CAE00"/>
<rect x="348.70" y="279.07" width="121.50" height="7.14" fill="#00BFC4"/>
<rect x="348.70" y="287.01" width="124.30" height="7.14" fill="#C77CFF"/>
<rect x="348.70" y="294.95" width="124.30" height="7.14" fill="#00BFC4"/>
<rect x="348.70" y="302.88" width="91.30" height="7.14" fill="#7CAE00"/>
<rect x="348.70" y="310.82" width="119.20" height="7.14" fill="#C77CFF"/>
<rect x="348.70" y="318.76" width="112.30" height="7.14" fill="#00BFC4"/>
<rect x="348.70" y="326.69" width="117.20" height="7.14" fill="#00BFC4"/>
<rect x="348.70" y="334.63" width="109.70" height="7.14" fill="#C77CFF"/>
<rect x="348.70" y="342.57" width="92.90" height="7.14" fill="#C77CFF"/>
<rect x="348.70" y="350.50" width="80.20" height="7.14" fill="#7CAE00"/>
<rect x="348.70" y="358.44" width="79.10" height="7.14" fill="#7CAE00"/>
<rect x="348.70" y="366.37" width="100.40" height="7.14" fill="#00BFC4"/>
<rect x="348.70" y="374.31" width="105.30" height="7.14" fill="#00BFC4"/>
<rect x="348.70" y="382.25" width="98.20" height="7.14" fill="#C77CFF"/>
<rect x="348.70" y="390.18" width="105.30" height="7.14" fill="#00BFC4"/>
<rect x="348.70" y="398.12" width="80.70" height="7.14" fill="#C77CFF"/>
<rect x="348.70" y="406.06" width="95.50" height="7.14" fill="#C77CFF"/>
<rect x="348.70" y="413.99" width="55.40" height="7.14" fill="#7CAE00"/>
<rect x="348.70" y="421.93" width="55.30" height="7.14" fill="#00BFC4"/>
<rect x="348.70" y="429.87" width="43.10" height="7.14" fill="#C77CFF"/>
<rect x="342.6" y="238.2" width="143.80" height="200.00" fill="none" stroke="#858585" stroke-width="1.2"/>
<line x1="339.85" y1="242.96" x2="342.6" y2="242.96" stroke="#333333" stroke-width="1.1"/>
<text x="337.90" y="245.86" text-anchor="end" class="ax">iBitter−Fuse</text>
<line x1="339.85" y1="250.90" x2="342.6" y2="250.90" stroke="#333333" stroke-width="1.1"/>
<text x="337.90" y="253.80" text-anchor="end" class="ax">XGB−AAI</text>
<line x1="339.85" y1="258.83" x2="342.6" y2="258.83" stroke="#333333" stroke-width="1.1"/>
<text x="337.90" y="261.73" text-anchor="end" class="ax">ETree−AAI</text>
<line x1="339.85" y1="266.77" x2="342.6" y2="266.77" stroke="#333333" stroke-width="1.1"/>
<text x="337.90" y="269.67" text-anchor="end" class="ax">MLP−AAI</text>
<line x1="339.85" y1="274.71" x2="342.6" y2="274.71" stroke="#333333" stroke-width="1.1"/>
<text x="337.90" y="277.61" text-anchor="end" class="ax">RF−AAI</text>
<line x1="339.85" y1="282.64" x2="342.6" y2="282.64" stroke="#333333" stroke-width="1.1"/>
<text x="337.90" y="285.54" text-anchor="end" class="ax">RF−AAC</text>
<line x1="339.85" y1="290.58" x2="342.6" y2="290.58" stroke="#333333" stroke-width="1.1"/>
<text x="337.90" y="293.48" text-anchor="end" class="ax">ETree−PAAC</text>
<line x1="339.85" y1="298.52" x2="342.6" y2="298.52" stroke="#333333" stroke-width="1.1"/>
<text x="337.90" y="301.42" text-anchor="end" class="ax">ETree−AAC</text>
<line x1="339.85" y1="306.45" x2="342.6" y2="306.45" stroke="#333333" stroke-width="1.1"/>
<text x="337.90" y="309.35" text-anchor="end" class="ax">KNN−AAI</text>
<line x1="339.85" y1="314.39" x2="342.6" y2="314.39" stroke="#333333" stroke-width="1.1"/>
<text x="337.90" y="317.29" text-anchor="end" class="ax">MLP−PAAC</text>
<line x1="339.85" y1="322.33" x2="342.6" y2="322.33" stroke="#333333" stroke-width="1.1"/>
<text x="337.90" y="325.23" text-anchor="end" class="ax">MLP−AAC</text>
<line x1="339.85" y1="330.26" x2="342.6" y2="330.26" stroke="#333333" stroke-width="1.1"/>
<text x="337.90" y="333.16" text-anchor="end" class="ax">XGB−AAC</text>
<line x1="339.85" y1="338.20" x2="342.6" y2="338.20" stroke="#333333" stroke-width="1.1"/>
<text x="337.90" y="341.10" text-anchor="end" class="ax">RF−PAAC</text>
<line x1="339.85" y1="346.14" x2="342.6" y2="346.14" stroke="#333333" stroke-width="1.1"/>
<text x="337.90" y="349.04" text-anchor="end" class="ax">XGB−PAAC</text>
<line x1="339.85" y1="354.07" x2="342.6" y2="354.07" stroke="#333333" stroke-width="1.1"/>
<text x="337.90" y="356.97" text-anchor="end" class="ax">LR−AAI</text>
<line x1="339.85" y1="362.01" x2="342.6" y2="362.01" stroke="#333333" stroke-width="1.1"/>
<text x="337.90" y="364.91" text-anchor="end" class="ax">DT−AAI</text>
<line x1="339.85" y1="369.95" x2="342.6" y2="369.95" stroke="#333333" stroke-width="1.1"/>
<text x="337.90" y="372.85" text-anchor="end" class="ax">LR−AAC</text>
<line x1="339.85" y1="377.88" x2="342.6" y2="377.88" stroke="#333333" stroke-width="1.1"/>
<text x="337.90" y="380.78" text-anchor="end" class="ax">DT−AAC</text>
<line x1="339.85" y1="385.82" x2="342.6" y2="385.82" stroke="#333333" stroke-width="1.1"/>
<text x="337.90" y="388.72" text-anchor="end" class="ax">KNN−PAAC</text>
<line x1="339.85" y1="393.76" x2="342.6" y2="393.76" stroke="#333333" stroke-width="1.1"/>
<text x="337.90" y="396.66" text-anchor="end" class="ax">KNN−AAC</text>
<line x1="339.85" y1="401.69" x2="342.6" y2="401.69" stroke="#333333" stroke-width="1.1"/>
<text x="337.90" y="404.59" text-anchor="end" class="ax">LR−PAAC</text>
<line x1="339.85" y1="409.63" x2="342.6" y2="409.63" stroke="#333333" stroke-width="1.1"/>
<text x="337.90" y="412.53" text-anchor="end" class="ax">DT−PAAC</text>
<line x1="339.85" y1="417.57" x2="342.6" y2="417.57" stroke="#333333" stroke-width="1.1"/>
<text x="337.90" y="420.47" text-anchor="end" class="ax">NB−AAI</text>
<line x1="339.85" y1="425.50" x2="342.6" y2="425.50" stroke="#333333" stroke-width="1.1"/>
<text x="337.90" y="428.40" text-anchor="end" class="ax">NB−AAC</text>
<line x1="339.85" y1="433.44" x2="342.6" y2="433.44" stroke="#333333" stroke-width="1.1"/>
<text x="337.90" y="436.34" text-anchor="end" class="ax">NB−PAAC</text>
<line x1="348.70" y1="438.2" x2="348.70" y2="440.95" stroke="#333333" stroke-width="1.1"/>
<line x1="386.90" y1="438.2" x2="386.90" y2="440.95" stroke="#333333" stroke-width="1.1"/>
<line x1="425.10" y1="438.2" x2="425.10" y2="440.95" stroke="#333333" stroke-width="1.1"/>
<line x1="463.30" y1="438.2" x2="463.30" y2="440.95" stroke="#333333" stroke-width="1.1"/>
<text x="414.50" y="453.0" text-anchor="middle" class="ti">Independent test MCC</text>
<text x="283" y="246.5" class="pl">D</text>
<text x="501.20" y="308.10" class="lt">Descriptor</text>
<rect x="501.20" y="315.10" width="13.1" height="14.3" fill="#F8766D"/>
<text x="520.00" y="325.20" class="lg">Fuse</text>
<rect x="501.20" y="330.63" width="13.1" height="14.3" fill="#7CAE00"/>
<text x="520.00" y="340.73" class="lg">AAI</text>
<rect x="501.20" y="346.16" width="13.1" height="14.3" fill="#00BFC4"/>
<text x="520.00" y="356.26" class="lg">AAC</text>
<rect x="501.20" y="361.69" width="13.1" height="14.3" fill="#C77CFF"/>
<text x="520.00" y="371.79" class="lg">PAAC</text>
</svg>
</body></html>
